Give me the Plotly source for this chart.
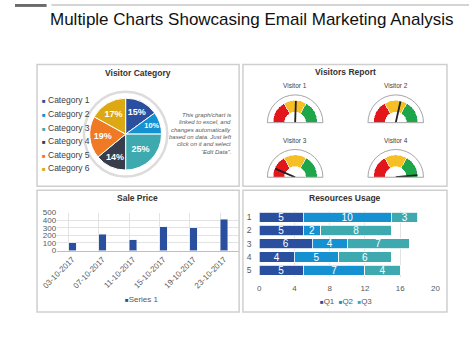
import plotly.graph_objects as go

W, H = 474, 355
FONT = "Liberation Sans, Arial, sans-serif"

# ---------------- data ----------------
main_title = "Multiple Charts Showcasing Email Marketing Analysis"

pie_labels = ["Category 1", "Category 2", "Category 3", "Category 4", "Category 5", "Category 6"]
pie_values = [15, 10, 25, 14, 19, 17]
pie_colors = ["#2b4f9f", "#1591d1", "#3eaab0", "#383d4c", "#ef7a23", "#dda912"]
note_lines = ["This graph/chart is", "linked to excel, and", "changes automatically",
              "based on data. Just left", "click on it and select", "\u201cEdit Data\u201d."]

gauge_names = ["Visitor 1", "Visitor 2", "Visitor 3", "Visitor 4"]
gauge_values = [51, 57, 13, 97]
zone_edges = [0, 33.33, 66.67, 100]
zone_colors = ["#e3161c", "#f6bf26", "#1fa64a"]
gauge_tickvals = [0, 25, 50, 75, 100]

sale_dates = ["2017-10-03", "2017-10-07", "2017-10-11", "2017-10-15", "2017-10-19", "2017-10-23"]
sale_values = [100, 215, 145, 315, 300, 415]
sale_series = "Series 1"
sale_color = "#2b4f9f"

res_categories = [1, 2, 3, 4, 5]
res_series = ["Q1", "Q2", "Q3"]
res_q1 = [5, 5, 6, 4, 5]
res_q2 = [10, 2, 4, 5, 7]
res_q3 = [3, 8, 7, 6, 4]
res_colors = ["#2b4f9f", "#1591d1", "#3eaab0"]

# ---------------- helpers ----------------
def fx(px):
    return px / W

def fy(py):
    return 1 - py / H

fig = go.Figure()
annotations = []
shapes = []

def text(x, y, s, size=8, color="#404040", anchor="center", bold=False, italic=False):
    if bold:
        s = "<b>" + s + "</b>"
    if italic:
        s = "<i>" + s + "</i>"
    annotations.append(dict(x=fx(x), y=fy(y), xref="paper", yref="paper", text=s,
                            showarrow=False, xanchor=anchor, yanchor="middle",
                            font=dict(family=FONT, size=size, color=color)))

# header bars
shapes.append(dict(type="rect", xref="paper", yref="paper", x0=fx(0), x1=fx(33), y0=fy(3), y1=fy(0),
                   fillcolor="#6b6b6b", line=dict(width=0)))
shapes.append(dict(type="rect", xref="paper", yref="paper", x0=fx(38), x1=fx(474), y0=fy(2), y1=fy(0),
                   fillcolor="#d4d4d4", line=dict(width=0)))
text(247, 16, main_title, size=17, color="#111111")

# panels
panels = [(23, 62, 234, 187), (238, 62, 451, 187), (23, 191, 234, 316), (238, 191, 451, 316)]
for (x0, y0, x1, y1) in panels:
    shapes.append(dict(type="rect", xref="paper", yref="paper", x0=fx(x0), x1=fx(x1), y0=fy(y1), y1=fy(y0),
                       line=dict(color="#cfcfcf", width=1.5), fillcolor="rgba(0,0,0,0)"))

text(128, 71, "Visitor Category", size=8.5, color="#333333", bold=True)
text(345, 70, "Visitors Report", size=8.5, color="#333333", bold=True)
text(128, 199, "Sale Price", size=8.5, color="#333333", bold=True)
text(345, 199, "Resources Usage", size=8.5, color="#333333", bold=True)

# ---------------- pie ----------------
pcx, pcy, pr = 115.5, 133.5, 37.5
fig.add_trace(go.Pie(labels=pie_labels, values=pie_values, sort=False, direction="clockwise",
                     rotation=0, marker=dict(colors=pie_colors, line=dict(color="white", width=1)),
                     texttemplate="<b>%{value}%</b>", textposition="inside",
                     insidetextorientation="horizontal",
                     textfont=dict(family=FONT, size=9, color="white"),
                     domain=dict(x=[fx(pcx - pr), fx(pcx + pr)], y=[fy(pcy + pr), fy(pcy - pr)]),
                     showlegend=False, hoverinfo="label+percent"))
rr = 43.5
shapes.append(dict(type="circle", xref="paper", yref="paper", x0=fx(pcx - rr), x1=fx(pcx + rr),
                   y0=fy(pcy + rr), y1=fy(pcy - rr), line=dict(color="#dcdcdc", width=2.5)))
leg_y = [99, 113, 127, 141, 155, 168]
for lab, col, ly in zip(pie_labels, pie_colors, leg_y):
    text(26, ly, "<span style='color:%s;font-size:6px'>\u25a0</span> %s" % (col, lab),
         size=8.5, color="#404040", anchor="left")
for i, line in enumerate(note_lines):
    text(228, 114 + 7.5 * i, line, size=6, color="#595959", anchor="right", italic=True)

# ---------------- gauges ----------------
g_centers = [(292.5, 122), (397.5, 122), (292.5, 178), (397.5, 178)]
g_label_y = [84, 84, 140, 140]
R = 29
deg = 180 / 100.0
for i, (name, val, (cx, cy)) in enumerate(zip(gauge_names, gauge_values, g_centers)):
    pid = "polar" if i == 0 else "polar%d" % (i + 1)
    centers = [(zone_edges[k] + zone_edges[k + 1]) / 2 * deg for k in range(3)]
    widths = [(zone_edges[k + 1] - zone_edges[k]) * deg for k in range(3)]
    fig.add_trace(go.Barpolar(r=[0.42] * 3, base=[0.38] * 3, theta=centers, width=widths,
                              marker=dict(color=zone_colors, line=dict(color="white", width=0.6)),
                              subplot=pid, showlegend=False, hoverinfo="skip"))
    fig.add_trace(go.Scatterpolar(r=[0, 0.78], theta=[val * deg, val * deg], mode="lines",
                                  line=dict(color="#1e1e1e", width=1.8), subplot=pid,
                                  showlegend=False, hoverinfo="skip"))
    fig.layout[pid] = dict(
        domain=dict(x=[fx(cx - R), fx(cx + R)], y=[fy(cy), fy(cy - R)]),
        sector=[0, 180], hole=0, bgcolor="rgba(0,0,0,0)",
        radialaxis=dict(visible=False, range=[0, 1]),
        angularaxis=dict(rotation=180, direction="clockwise", tickmode="array",
                         tickvals=[v * deg for v in gauge_tickvals],
                         ticktext=[str(v) for v in gauge_tickvals],
                         ticks="outside", ticklen=2, tickwidth=0.8, tickcolor="#8c8c8c",
                         showline=True, linecolor="#a6a6a6", linewidth=1, showgrid=False,
                         tickfont=dict(family=FONT, size=4.5, color="#7f7f7f")))
    text(cx, g_label_y[i], name, size=6.5, color="#404040")

# ---------------- sale price ----------------
fig.add_trace(go.Bar(x=sale_dates, y=sale_values, marker_color=sale_color, width=86400000 * 1.0,
                     xaxis="x", yaxis="y", showlegend=False, name=sale_series))
grid_days = ["2017-10-02 12:00", "2017-10-06 12:00", "2017-10-10 12:00", "2017-10-14 12:00",
             "2017-10-18 12:00", "2017-10-22 12:00"]
fig.update_layout(
    xaxis=dict(domain=[fx(44), fx(234)], type="date", range=["2017-10-01", "2017-10-25"],
               tickmode="array", tickvals=sale_dates, tickformat="%d-%m-%Y", tickangle=-45,
               tickfont=dict(family=FONT, size=8, color="#595959"), showgrid=False,
               showline=True, linecolor="#bfbfbf", linewidth=1, anchor="y", ticks="",
               minor=dict(tickmode="array", tickvals=grid_days,
                          showgrid=True, gridcolor="#e3e3e3", gridwidth=1, ticks="")),
    yaxis=dict(domain=[fy(253), fy(214)], range=[0, 500], tickvals=[0, 100, 200, 300, 400, 500],
               tickfont=dict(family=FONT, size=8, color="#595959"), showgrid=True,
               gridcolor="#e3e3e3", gridwidth=1, zeroline=False, anchor="x"),
)
text(133, 303, "<span style='color:%s;font-size:6px'>\u25a0</span>%s" % (sale_color, sale_series),
     size=8, color="#595959")

# ---------------- resources usage ----------------
for name, vals, col in zip(res_series, [res_q1, res_q2, res_q3], res_colors):
    fig.add_trace(go.Bar(y=res_categories, x=vals, orientation="h", name=name,
                         marker=dict(color=col, line=dict(color="white", width=0.8)),
                         text=vals, textposition="inside", insidetextanchor="middle",
                         constraintext="none", textangle=0,
                         textfont=dict(family=FONT, size=10, color="white"), width=0.76,
                         xaxis="x2", yaxis="y2", showlegend=False))
fig.update_layout(
    barmode="stack",
    xaxis2=dict(domain=[fx(255), fx(439)], range=[0, 20], tickvals=[0, 4, 8, 12, 16, 20],
                tickfont=dict(family=FONT, size=8, color="#595959"), showgrid=True,
                gridcolor="#e3e3e3", zeroline=False, anchor="y2", ticks="outside", ticklen=3,
                tickcolor="rgba(0,0,0,0)"),
    yaxis2=dict(domain=[fy(280), fy(212)], range=[5.5, 0.5], tickvals=res_categories,
                tickfont=dict(family=FONT, size=8.5, color="#595959"), showgrid=False,
                zeroline=False, anchor="x2", ticks="outside", ticklen=5, tickcolor="rgba(0,0,0,0)"),
)
leg = "  ".join("<span style='color:%s;font-size:6px'>\u25a0</span>%s" % (c, n) for n, c in zip(res_series, res_colors))
text(346, 305, leg, size=8, color="#595959")

fig.update_layout(width=W, height=H, margin=dict(l=0, r=0, t=0, b=0),
                  paper_bgcolor="white", plot_bgcolor="white",
                  annotations=annotations, shapes=shapes, showlegend=False,
                  font=dict(family=FONT))
fig.write_html("out.html", post_script="document.body.style.margin='0px';document.body.style.padding='0px';")
